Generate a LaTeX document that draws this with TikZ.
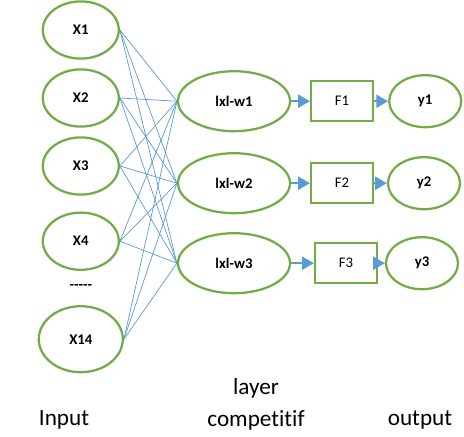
\documentclass[tikz,border=0pt]{standalone}
\usepackage{fontspec}
\setmainfont{Carlito}[Ligatures={NoCommon}]
\usetikzlibrary{shapes.geometric, arrows}

\definecolor{leafgreen}{RGB}{112,173,71}
\definecolor{linkblue}{RGB}{91,155,213}

\begin{document}
\begin{tikzpicture}[node distance=1.7cm]
\tikzstyle{inp} = [ellipse, minimum width=1.9cm, minimum height=1.43cm, draw=leafgreen, line width=1.6pt, font=\bfseries\fontsize{10.5}{12}\selectfont]
\tikzstyle{comp} = [ellipse, minimum width=2.8cm, minimum height=1.5cm, draw=leafgreen, line width=1.6pt, font=\bfseries\fontsize{10.5}{12}\selectfont]
\tikzstyle{outp} = [ellipse, minimum width=1.8cm, minimum height=1.3cm, draw=leafgreen, line width=1.6pt, font=\bfseries\fontsize{10.5}{12}\selectfont]
\tikzstyle{func} = [rectangle, minimum width=1.55cm, minimum height=1cm, draw=leafgreen, line width=1.6pt, font=\fontsize{10.5}{12}\selectfont]
\tikzstyle{link} = [linkblue, line width=0.5pt]
\tikzstyle{arrow} = [linkblue, line width=1.3pt, ->, >=triangle 60]
\tikzstyle{caption} = [font=\fontsize{16.5}{19}\selectfont]

\useasboundingbox (0,0) rectangle (11.6,-10.9);

% input layer
\node (x1) [inp] at (2.02,-0.75) {X1};
\node (x2) [inp, below of=x1] {X2};
\node (x3) [inp, below of=x2] {X3};
\node (x4) [inp, below of=x3, yshift=-0.18cm] {X4};
\node (dots) [below of=x4, yshift=0.55cm, font=\bfseries\fontsize{10.5}{12}\selectfont] {-{}-{}-{}-{}-};
\node (x14) [inp, below of=x4, yshift=-0.75cm, minimum width=2.1cm, minimum height=1.65cm] {X14};

% competitive layer
\node (w1) [comp, right of=x2, xshift=2.13cm, yshift=-0.08cm] {lxl-w1};
\node (w2) [comp, below of=w1, yshift=-0.35cm] {lxl-w2};
\node (w3) [comp, below of=w2, yshift=-0.3cm] {lxl-w3};

% functions and outputs
\node (f1) [func, right of=w1, xshift=1.0cm] {F1};
\node (f2) [func, right of=w2, xshift=1.0cm] {F2};
\node (f3) [func, right of=w3, xshift=1.1cm] {F3};
\node (y1) [outp, right of=f1, xshift=0.38cm] {y1};
\node (y2) [outp, right of=f2, xshift=0.35cm] {y2};
\node (y3) [outp, right of=f3, xshift=0.2cm] {y3};

\foreach \i in {x1,x2,x3,x4,x14}
  \foreach \j in {w1,w2,w3}
    \draw [link] (\i.east) -- (\j.west);

\draw [arrow] (w1) -- (f1);
\draw [arrow] (w2) -- (f2);
\draw [arrow] (w3) -- (f3);
\draw [arrow] (f1) -- (y1);
\draw [arrow] (f2) -- (y2);
\draw [arrow] (f3) -- (y3);

% captions
\node (layer) [caption] at (6.4,-9.7) {layer};
\node (inlabel) [caption] at (1.6,-10.5) {Input};
\node (complabel) [caption] at (6.4,-10.5) {competitif};
\node (outlabel) [caption] at (10.5,-10.5) {output};
\end{tikzpicture}
\end{document}
